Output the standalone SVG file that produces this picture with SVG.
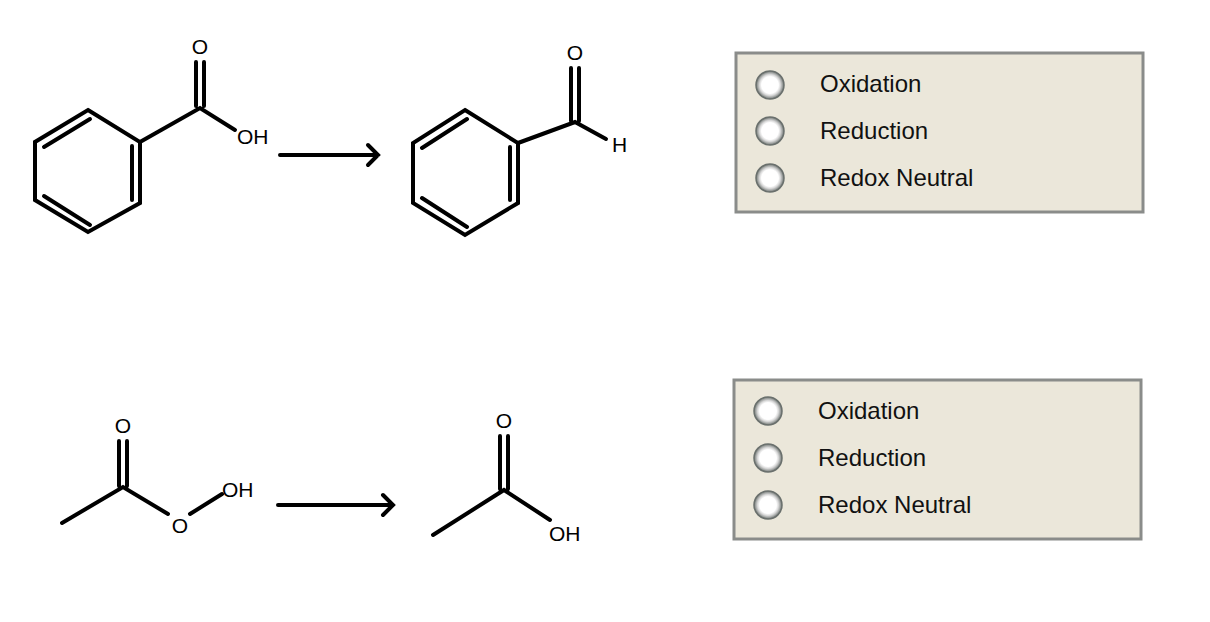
<svg xmlns="http://www.w3.org/2000/svg" width="1210" height="622" viewBox="0 0 1210 622">
<defs>
<radialGradient id="rg" cx="0.5" cy="0.5" r="0.5">
<stop offset="0.6" stop-color="#ffffff"/><stop offset="0.75" stop-color="#d8d8d8"/><stop offset="1" stop-color="#6f7572"/>
</radialGradient>
<style>
.b{stroke:#000;stroke-width:4;fill:none;stroke-linecap:round}
.a{font-family:"Liberation Sans",Arial,sans-serif;font-size:21px;fill:#000}
.t{font-family:"Liberation Sans",Arial,sans-serif;font-size:24px;fill:#111}
.box{fill:#ebe7da;stroke:#8a8c8a;stroke-width:3}
.r{fill:url(#rg);stroke:#6a706d;stroke-width:1.5}
</style>
</defs>
<rect width="1210" height="622" fill="#fff"/>
<g id="benzoic-acid">
<path class="b" d="M88 110 L140 142 L140 203 L88 232 L35 200 L35 142 Z"/>
<path class="b" d="M44 147 L90 119 M132 146 L132 200 M44 196 L90 225"/>
<path class="b" d="M140 142 L200 108 L235 130 M196 62 L196 106 M204 62 L204 106"/>
<text class="a" x="200" y="54" text-anchor="middle">O</text>
<text class="a" x="237" y="144">OH</text>
</g>
<g id="benzaldehyde">
<path class="b" d="M465 110 L518 143 L518 203 L465 235 L413 203 L413 143 Z"/>
<path class="b" d="M422 148 L467 119 M510 147 L510 200 M422 198 L467 227"/>
<path class="b" d="M518 143 L575 122 L606 139 M571 68 L571 121 M579 68 L579 121"/>
<text class="a" x="575" y="60" text-anchor="middle">O</text>
<text class="a" x="612" y="152">H</text>
</g>
<g id="peracetic-acid">
<path class="b" d="M62 523 L123 487 L168 514 M119 441 L119 486 M127 441 L127 486 M190 514 L222 494"/>
<text class="a" x="123" y="433" text-anchor="middle">O</text>
<text class="a" x="180" y="533" text-anchor="middle">O</text>
<text class="a" x="222" y="497">OH</text>
</g>
<g id="acetic-acid">
<path class="b" d="M433 535 L504 490 L550 520 M500 436 L500 489 M508 436 L508 489"/>
<text class="a" x="504" y="428" text-anchor="middle">O</text>
<text class="a" x="549" y="541">OH</text>
</g>
<g id="connectors">
<path class="b" d="M280 155 L378 155 M368 145 L378 155 L368 165"/>
<path class="b" d="M278 505 L393 505 M383 495 L393 505 L383 515"/>
</g>
<g id="options1">
<rect class="box" x="736" y="53" width="407" height="159"/>
<circle class="r" cx="770" cy="85" r="14"/>
<circle class="r" cx="770" cy="131" r="14"/>
<circle class="r" cx="770" cy="178" r="14"/>
<text class="t" x="820" y="92">Oxidation</text>
<text class="t" x="820" y="139">Reduction</text>
<text class="t" x="820" y="186">Redox Neutral</text>
</g>
<g id="options2">
<rect class="box" x="734" y="380" width="407" height="159"/>
<circle class="r" cx="768" cy="411" r="14"/>
<circle class="r" cx="768" cy="458" r="14"/>
<circle class="r" cx="768" cy="505" r="14"/>
<text class="t" x="818" y="419">Oxidation</text>
<text class="t" x="818" y="466">Reduction</text>
<text class="t" x="818" y="513">Redox Neutral</text>
</g>
</svg>
